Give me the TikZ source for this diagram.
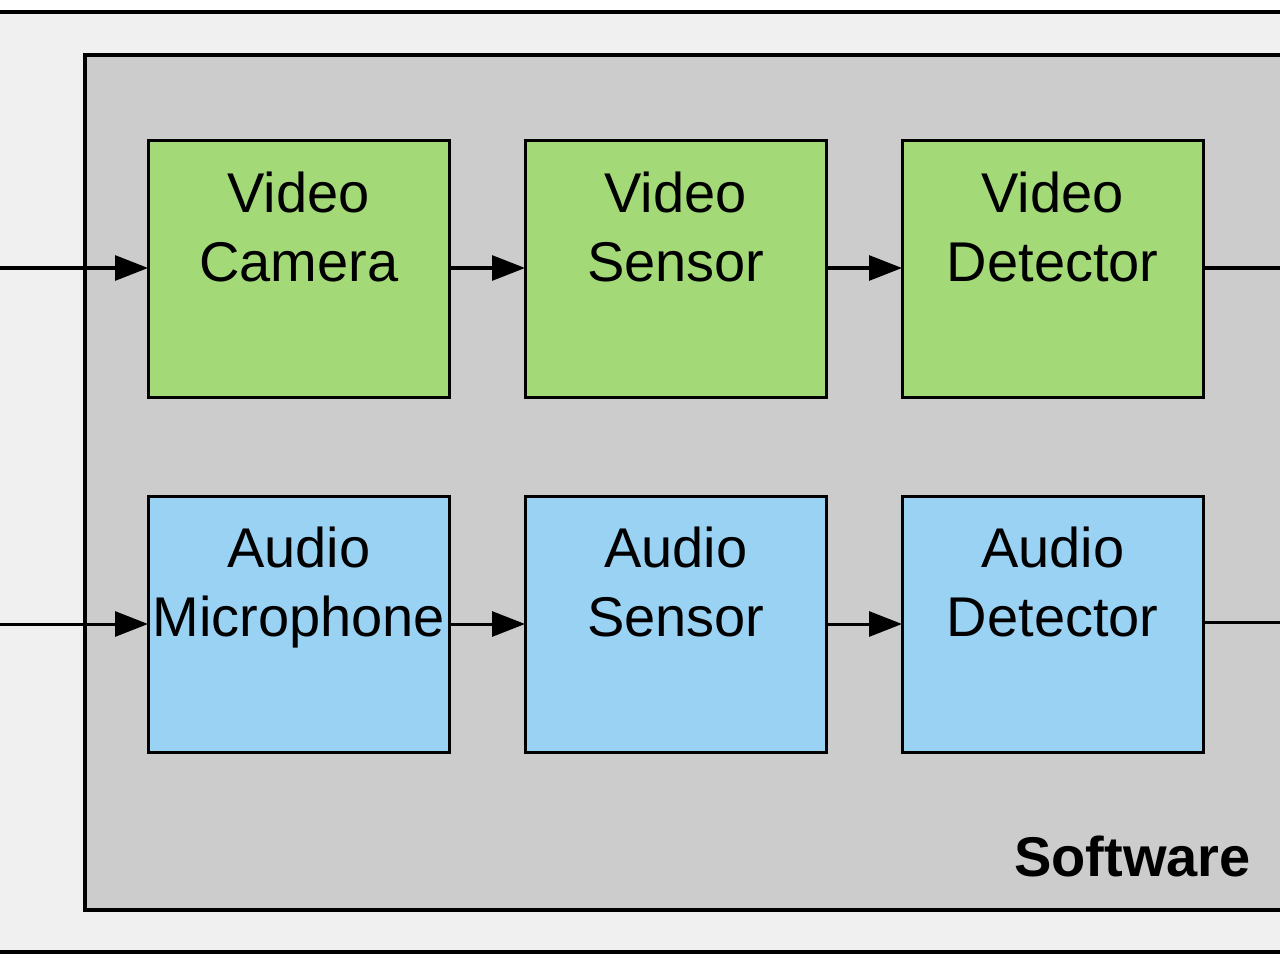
\documentclass[tikz,border=0pt]{standalone}
\usepackage{fontspec}
\setmainfont{Liberation Sans}
\usetikzlibrary{arrows.meta}
\definecolor{outerbg}{HTML}{F0F0F0}
\definecolor{innerbg}{HTML}{CCCCCC}
\definecolor{vgreen}{HTML}{A3D977}
\definecolor{ablue}{HTML}{9AD2F3}
\begin{document}
\begin{tikzpicture}[x=1pt,y=-1pt,
  blk/.style={draw=black,line width=3pt,minimum width=301.5pt,minimum height=256pt,inner sep=0pt,outer sep=0pt,anchor=north west},
  lbl/.style={anchor=north,inner sep=0pt,align=center,font=\fontsize{56}{69}\selectfont},
  conn/.style={line width=3pt,-{Triangle[length=33pt,width=25pt]}},
  tail/.style={line width=3pt}]
\useasboundingbox (0,0) rectangle (1280,960);
\begin{scope}
\clip (0,0) rectangle (1280,960);
\draw[fill=outerbg,line width=3.5pt] (-20,12) rectangle (1300,952);
\draw[fill=innerbg,line width=4pt] (85,55) rectangle (1300,910);
\end{scope}
\node[blk,fill=vgreen] (vc) at (148,141) {};
\node[blk,fill=vgreen] (vs) at (525,141) {};
\node[blk,fill=vgreen] (vd) at (902,141) {};
\node[blk,fill=ablue] (am) at (148,496) {};
\node[blk,fill=ablue] (as) at (525,496) {};
\node[blk,fill=ablue] (ad) at (902,496) {};
\node[lbl] (vct) at ([yshift=-31pt]vc.north) {Video\\Camera};
\node[lbl] (vst) at ([yshift=-31pt]vs.north) {Video\\Sensor};
\node[lbl] (vdt) at ([yshift=-31pt]vd.north) {Video\\Detector};
\node[lbl] (amt) at ([yshift=-31pt]am.north) {Audio\\Microphone};
\node[lbl] (ast) at ([yshift=-31pt]as.north) {Audio\\Sensor};
\node[lbl] (adt) at ([yshift=-31pt]ad.north) {Audio\\Detector};
\node[anchor=base east,inner sep=0pt,font=\fontsize{56}{69}\selectfont\bfseries] (sw) at (1251,876) {Software};
\coordinate (vin) at (0,268);
\coordinate (ain) at (0,624);
\coordinate (vout) at (1282,268);
\coordinate (aout) at (1282,622);
\draw[conn] (vin) -- (vc.west |- vin);
\draw[conn] (ain) -- (am.west |- ain);
\draw[conn] (vc.east |- vin) -- (vs.west |- vin);
\draw[conn] (vs.east |- vin) -- (vd.west |- vin);
\draw[conn] (am.east |- ain) -- (as.west |- ain);
\draw[conn] (as.east |- ain) -- (ad.west |- ain);
\draw[tail] (vd.east |- vout) -- (vout);
\draw[tail] (ad.east |- aout) -- (aout);
\end{tikzpicture}
\end{document}
